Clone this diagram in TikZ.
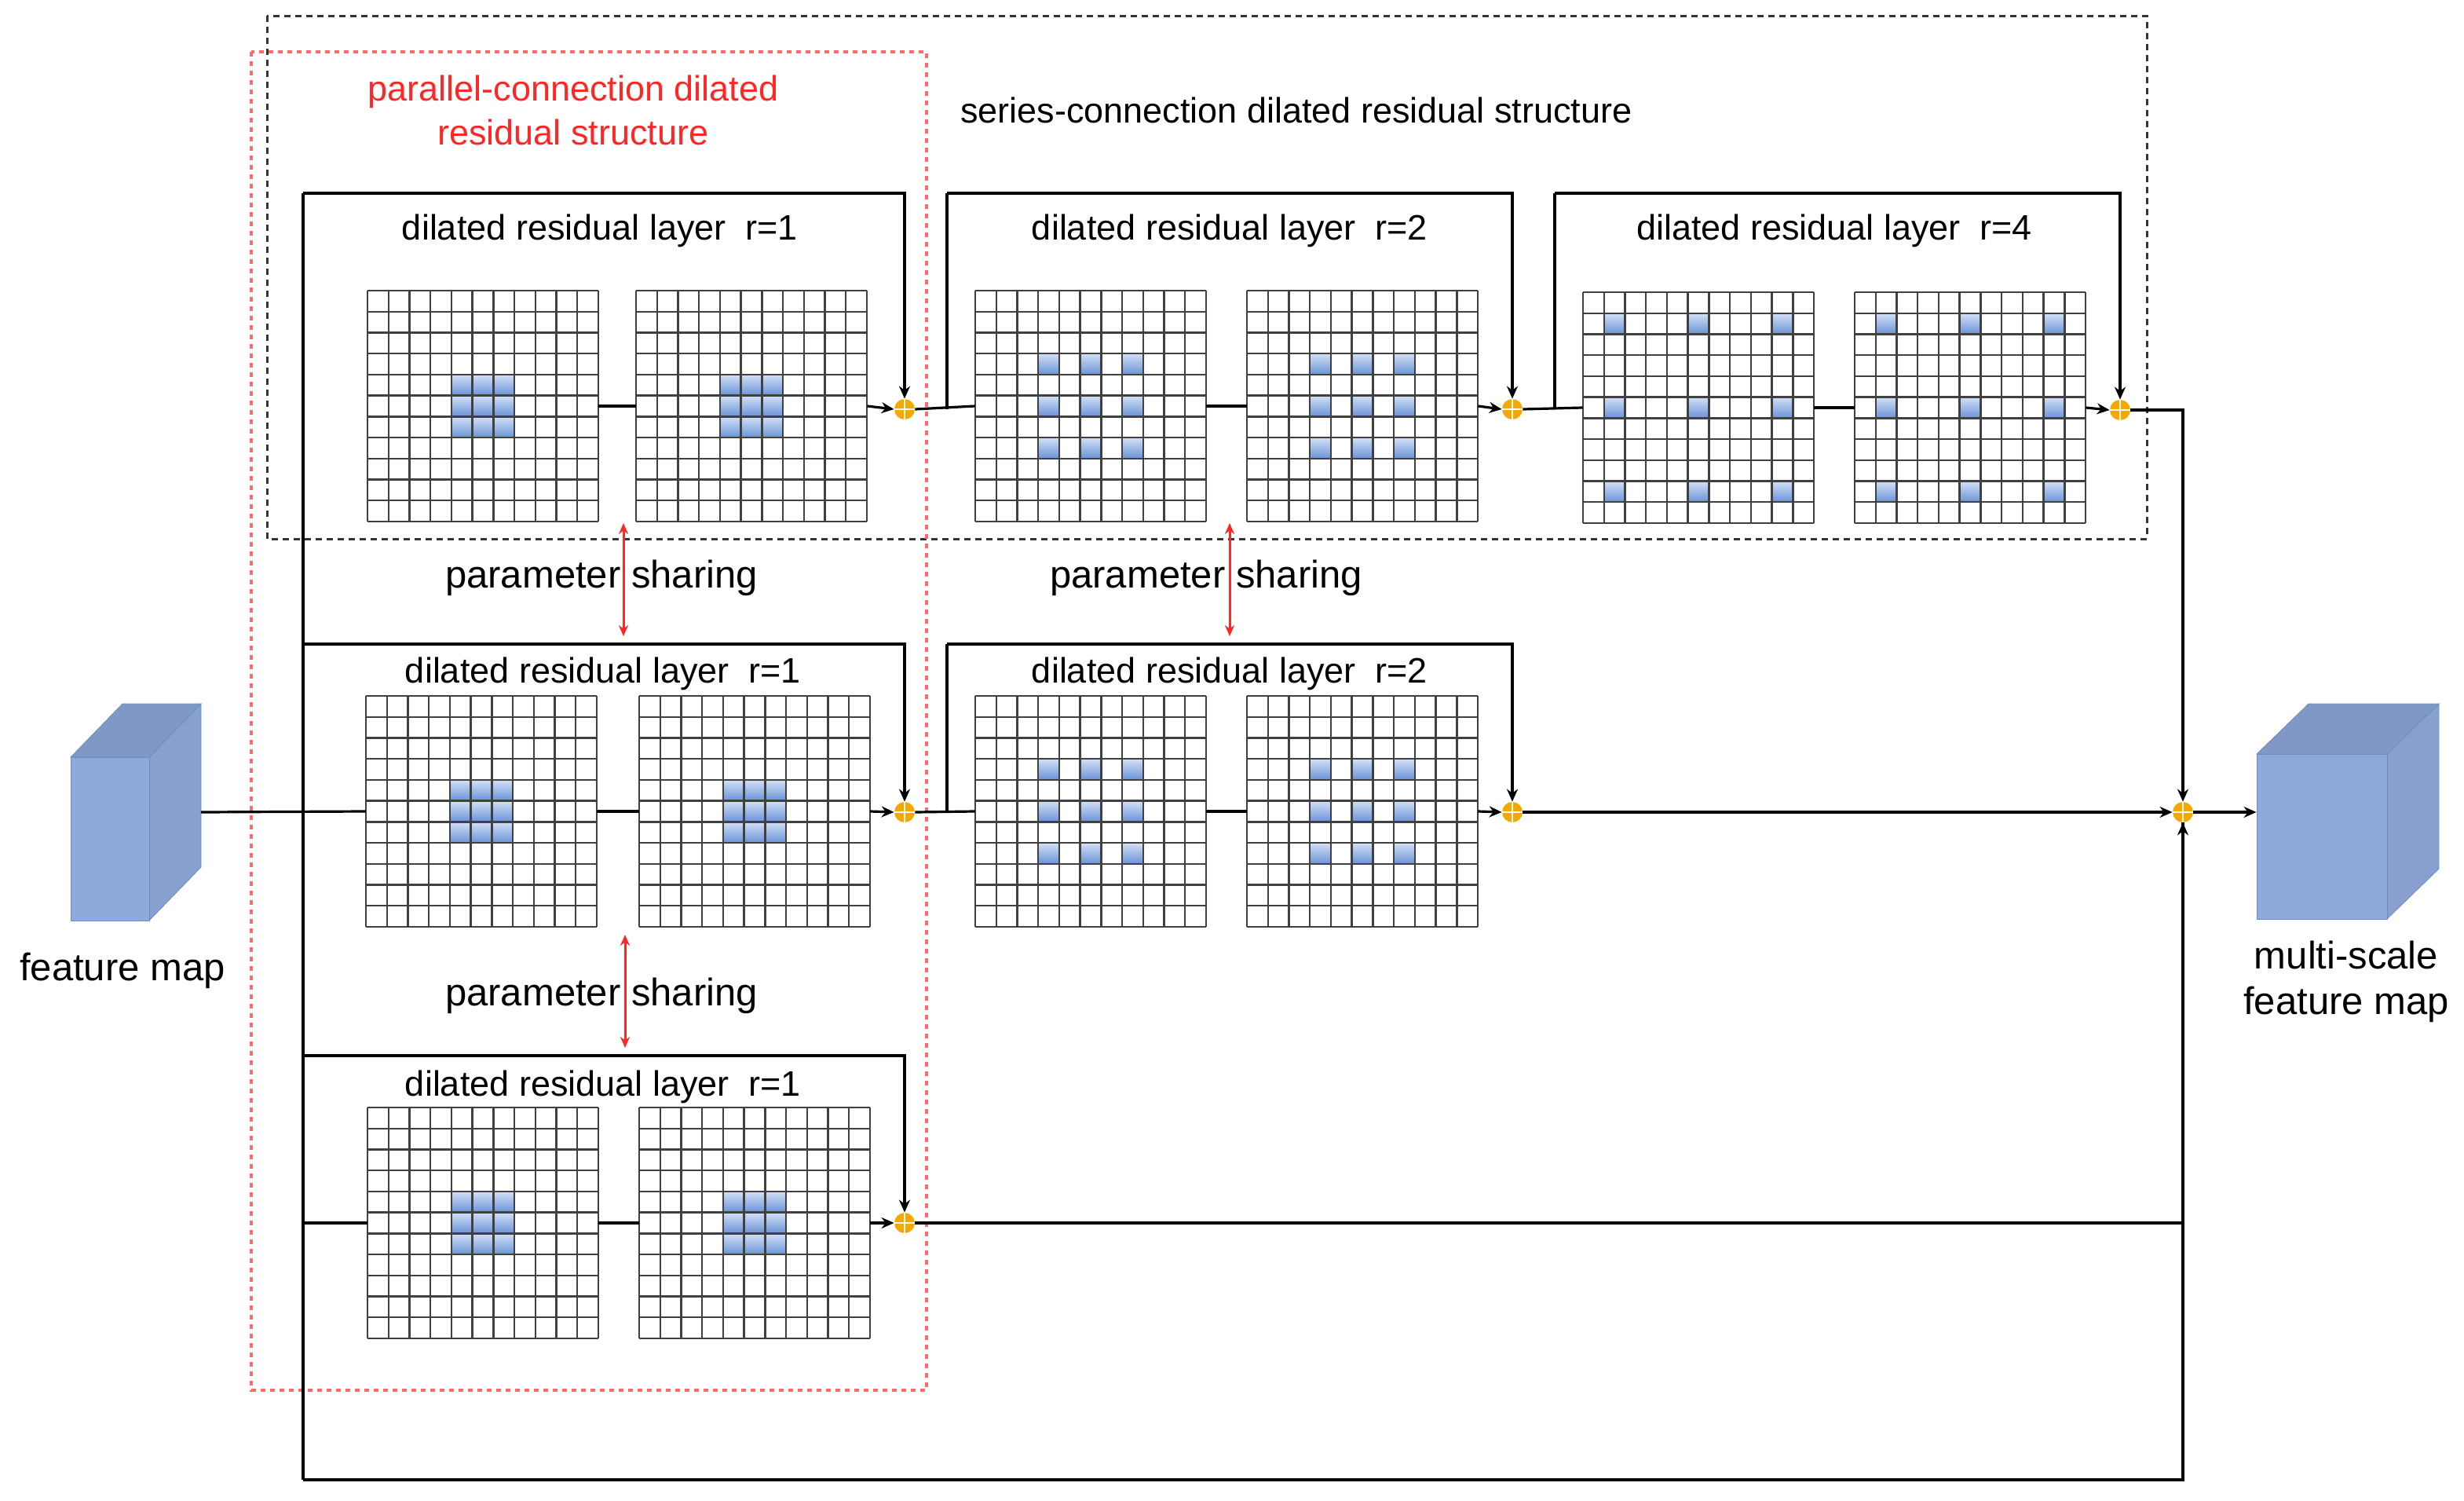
\documentclass[tikz,border=0pt]{standalone}
\usepackage{fontspec}
\setmainfont{Liberation Sans}
\usetikzlibrary{arrows.meta,calc}
\definecolor{cubefront}{HTML}{8EAADB}
\definecolor{cubetop}{HTML}{7F98C5}
\definecolor{cubeside}{HTML}{87A0CF}
\definecolor{cubeedge}{HTML}{6C8EBF}
\definecolor{redd}{HTML}{FF6B6B}
\definecolor{plusor}{HTML}{F5A800}
\definecolor{cellhi}{HTML}{D3E0F6}
\definecolor{cello}{HTML}{6A93D6}
\newcommand\fmap[4]{%
  \node[fmapbox] (#1) at (#2+73.5,#3+73.5) {};
  \foreach \i in {#4}{\foreach \j in {#4}{%
    \shade[top color=cellhi,bottom color=cello] (#2+\i*13.364,#3+\j*13.364) rectangle ++(13.364,13.364);}}
  \foreach \k in {0,...,11}{%
    \draw[gridln] (#2+\k*13.364,#3) -- ++(0,147);
    \draw[gridln] (#2,#3+\k*13.364) -- ++(147,0);}%
}
\tikzset{
  fmapbox/.style={draw=none,minimum size=147pt,inner sep=0pt},
  gridln/.style={draw=black!75,line width=1.2pt},
  conn/.style={draw=black,line width=1.6pt},
  arr/.style={conn,-{Stealth[length=8pt,width=7pt]}},
  plusn/.style={circle,fill=plusor,minimum size=13pt,inner sep=0pt,
    path picture={\draw[white,line width=1.2pt] (path picture bounding box.north) -- (path picture bounding box.south)
      (path picture bounding box.west) -- (path picture bounding box.east);}},
  ttl/.style={font=\fontsize{22.5}{28}\selectfont},
  big/.style={font=\fontsize{24.5}{29}\selectfont},
  share/.style={draw=red!85,line width=1.5pt,{Stealth[length=7pt,width=6pt]}-{Stealth[length=7pt,width=6pt]}},
}
\begin{document}
\begin{tikzpicture}[x=1pt,y=-1pt]
\useasboundingbox (0,0) rectangle (1569,955.5);
% enclosing boxes
\draw[black!80,line width=1.5pt,dash pattern=on 4pt off 3pt] (170,10) rectangle (1367,343);
\draw[redd,line width=1.6pt,dash pattern=on 3pt off 3pt] (160,33) rectangle (590,885);
\node[ttl,text=red!85,align=center] (ptitle) at (365,70) {parallel-connection dilated\\residual structure};
\node[ttl,anchor=west] (stitle) at (608,70) {series-connection dilated residual structure};
% grids
\fmap{g11}{234}{185}{4,5,6}
\fmap{g12}{405}{185}{4,5,6}
\fmap{g13}{621}{185}{3,5,7}
\fmap{g14}{794}{185}{3,5,7}
\fmap{g15}{1008}{186}{1,5,9}
\fmap{g16}{1181}{186}{1,5,9}
\fmap{g21}{233}{443}{4,5,6}
\fmap{g22}{407}{443}{4,5,6}
\fmap{g23}{621}{443}{3,5,7}
\fmap{g24}{794}{443}{3,5,7}
\fmap{g31}{234}{705}{4,5,6}
\fmap{g32}{407}{705}{4,5,6}
% titles
\node[ttl] (t11) at (382,147) {dilated residual layer\ \ r=1};
\node[ttl] (t12) at (783,147) {dilated residual layer\ \ r=2};
\node[ttl] (t13) at (1168,147) {dilated residual layer\ \ r=4};
\node[ttl] (t21) at (384,429) {dilated residual layer\ \ r=1};
\node[ttl] (t22) at (783,429) {dilated residual layer\ \ r=2};
\node[ttl] (t31) at (384,692) {dilated residual layer\ \ r=1};
% plus nodes
\node[plusn] (p11) at (576,260.5) {};
\node[plusn] (p12) at (963,260.5) {};
\node[plusn] (p13) at (1350,261) {};
\node[plusn] (p21) at (576,517) {};
\node[plusn] (p22) at (963,517) {};
\node[plusn] (p31) at (576,778.5) {};
\node[plusn] (pf) at (1390,517) {};
% cubes
\node[draw=none,minimum width=50pt,minimum height=104pt,inner sep=0pt] (fm) at (70,534) {};
\filldraw[fill=cubetop,draw=cubeedge] (45,482) -- (78,448) -- (128,448) -- (95,482) -- cycle;
\filldraw[fill=cubeside,draw=cubeedge] (95,482) -- (128,448) -- (128,552) -- (95,586) -- cycle;
\filldraw[fill=cubefront,draw=cubeedge] (45,482) rectangle (95,586);
\node[draw=none,minimum width=83pt,minimum height=105pt,inner sep=0pt] (out) at (1478.5,532.5) {};
\filldraw[fill=cubetop,draw=cubeedge] (1437,480) -- (1470,448) -- (1553,448) -- (1520,480) -- cycle;
\filldraw[fill=cubeside,draw=cubeedge] (1520,480) -- (1553,448) -- (1553,553) -- (1520,585) -- cycle;
\filldraw[fill=cubefront,draw=cubeedge] (1437,480) rectangle (1520,585);
\node[big] (fmlab) at (78,618) {feature map};
\node[big,align=center] (outlab) at (1494,625) {multi-scale\\feature map};
% coordinates
\coordinate (L1) at (193,123);
\coordinate (L2) at (193,410);
\coordinate (L3) at (193,672);
\coordinate (Lb) at (193,942);
\coordinate (fmo) at (128,517);
\coordinate (s12) at (603,123);
\coordinate (s13) at (990,123);
\coordinate (s22) at (603,410);
% connectors row 1
\draw[conn] (L1) -- (Lb);
\draw[conn] (g11.east) -- (g12.west);
\draw[arr] (g12.east) -- (p11.west);
\draw[arr] (L1) -| (p11.north);
\draw[conn] (p11.east) -- (g13.west);
\draw[conn] (s12) -- (s12 |- p11);
\draw[arr] (s12) -| (p12.north);
\draw[conn] (g13.east) -- (g14.west);
\draw[arr] (g14.east) -- (p12.west);
\draw[conn] (p12.east) -- (g15.west);
\draw[conn] (s13) -- (s13 |- p12);
\draw[arr] (s13) -| (p13.north);
\draw[conn] (g15.east) -- (g16.west);
\draw[arr] (g16.east) -- (p13.west);
\draw[arr] (p13.east) -| (pf.north);
% row 2
\draw[conn] (fmo) -- (g21.west);
\draw[conn] (g21.east) -- (g22.west);
\draw[arr] (g22.east) -- (p21.west);
\draw[arr] (L2) -| (p21.north);
\draw[conn] (p21.east) -- (g23.west);
\draw[conn] (s22) -- (s22 |- p21);
\draw[arr] (s22) -| (p22.north);
\draw[conn] (g23.east) -- (g24.west);
\draw[arr] (g24.east) -- (p22.west);
\draw[arr] (p22.east) -- (pf.west);
% row 3
\draw[conn] (L1 |- g31.west) -- (g31.west);
\draw[conn] (g31.east) -- (g32.west);
\draw[arr] (g32.east) -- (p31.west);
\draw[arr] (L3) -| (p31.north);
\draw[conn] (p31.east) -| (pf.south);
\draw[arr] (Lb) -| (pf.south);
\draw[arr] (pf.east) -- (out.west |- pf.east);
% parameter sharing
\node[big] (ps1) at (383,368) {parameter sharing};
\node[big] (ps2) at (768,368) {parameter sharing};
\node[big] (ps3) at (383,634) {parameter sharing};
\coordinate (a1) at (397,333); \coordinate (b1) at (397,405);
\coordinate (a2) at (783,333); \coordinate (b2) at (783,405);
\coordinate (a3) at (398,595); \coordinate (b3) at (398,667);
\draw[share] (a1) -- (b1);
\draw[share] (a2) -- (b2);
\draw[share] (a3) -- (b3);
\end{tikzpicture}
\end{document}
